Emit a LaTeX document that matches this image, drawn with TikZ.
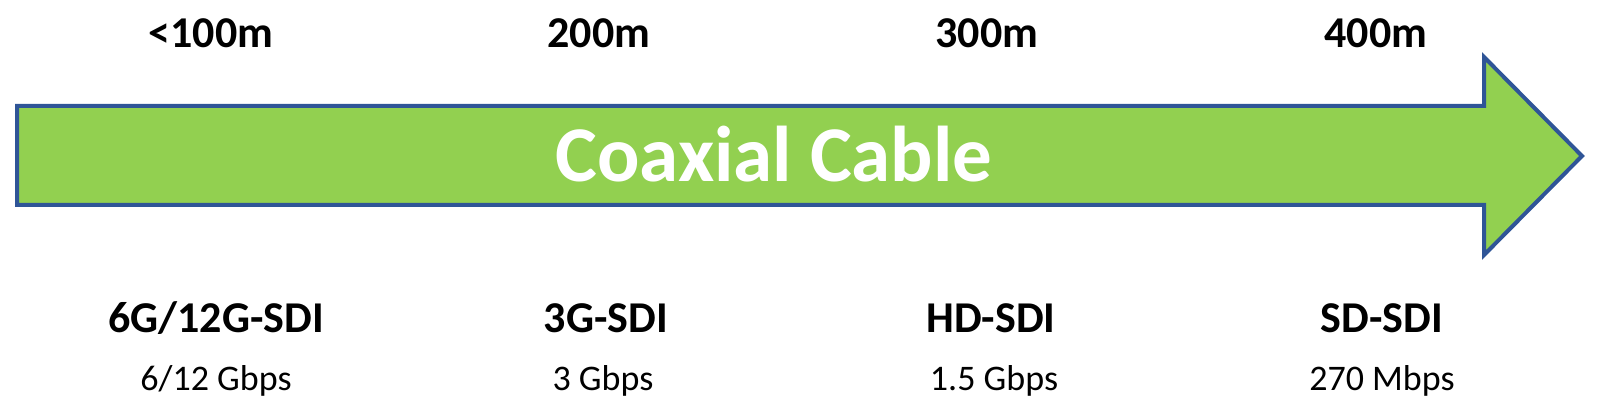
\documentclass[tikz,border=0pt]{standalone}
\usepackage{fontspec}
\setmainfont{Carlito}
\usepackage{tikz}
\usetikzlibrary{positioning}

\definecolor{cablegreen}{HTML}{92D050}
\definecolor{cableblue}{HTML}{2F5597}

\begin{document}
\begin{tikzpicture}[x=1pt,y=-1pt,
	dist/.style={anchor=base,font=\fontsize{44}{52}\selectfont\bfseries},
	sdi/.style={anchor=base,font=\fontsize{44}{52}\selectfont\bfseries},
	rate/.style={anchor=base,font=\fontsize{36}{43}\selectfont}]
			\useasboundingbox (0,0) rectangle (1600,419);
			\draw[cableblue, line width=4pt, fill=cablegreen, line join=miter]
				(17,106) -- (1484,106) -- (1484,57) -- (1582,156) -- (1484,255) -- (1484,205) -- (17,205) -- cycle;
			\node[anchor=base, text=white, font=\fontsize{79}{90}\selectfont\bfseries] (cable) at (774,182) {Coaxial Cable};
			\node[dist] (d1) at (211,48) {<100m};
			\node[dist] (d2) at (599,48) {200m};
			\node[dist] (d3) at (987,48) {300m};
			\node[dist] (d4) at (1376,48) {400m};
			\node[sdi] (s1) at (216,333) {6G/12G-SDI};
			\node[sdi] (s2) at (606,333) {3G-SDI};
			\node[sdi] (s3) at (991,333) {HD-SDI};
			\node[sdi] (s4) at (1382,333) {SD-SDI};
			\node[rate] (r1) at (216,390) {6/12 Gbps};
			\node[rate] (r2) at (603,390) {3 Gbps};
			\node[rate] (r3) at (994,390) {1.5 Gbps};
			\node[rate] (r4) at (1382,390) {270 Mbps};
\end{tikzpicture}
\end{document}
